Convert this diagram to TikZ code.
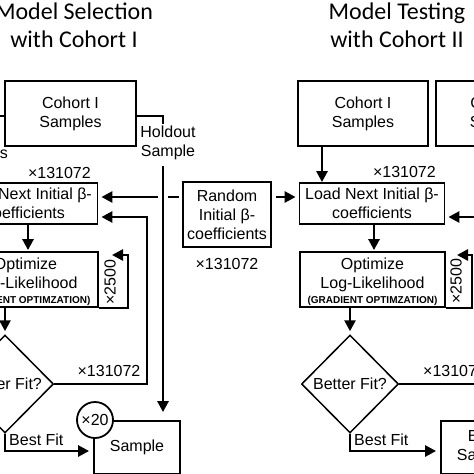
\documentclass[tikz,border=0pt]{standalone}
\usepackage{fontspec}
\setmainfont{Liberation Sans}
\newfontfamily\titlefont{Carlito}
\usetikzlibrary{arrows.meta,shapes.geometric}

\begin{document}
\begin{tikzpicture}[x=1pt,y=-1pt,
  every node/.style={font=\fontsize{16}{19}\selectfont,align=center,inner sep=0pt},
  ttl/.style={font=\titlefont\fontsize{24}{28}\selectfont},
  box/.style={draw,line width=1.8pt,minimum width=145pt,minimum height=41pt},
  dia/.style={draw,diamond,aspect=1,line width=1.5pt,minimum width=97pt,minimum height=98pt},
  link/.style={line width=2.6pt},
  arrow/.style={link,-{Triangle[length=11pt,width=11pt]}}]
\useasboundingbox (0,0) rectangle (474,474);
\clip (0,0) rectangle (474,474);

\node[ttl] (selTitle) at (74,25) {Model Selection\\with Cohort I};
\node[ttl] (testTitle) at (397,25) {Model Testing\\with Cohort II};

\node[box,minimum width=131pt,minimum height=65pt] (cohortL) at (70.5,113.5) {Cohort I\\Samples};
\node[box,minimum width=130pt,minimum height=65pt] (cohortR) at (363,113.5) {Cohort I\\Samples};
\node[box,minimum width=130pt,minimum height=65pt] (cohortT) at (501,113.5) {Cohort II\\Samples};
\node[box] (loadL) at (25,203.5) {Load Next Initial β-\\coefficients};
\node[box] (loadR) at (372,203.5) {Load Next Initial β-\\coefficients};
\node[box,minimum width=88pt,minimum height=65pt] (randB) at (227,214.5) {Random\\Initial β-\\coefficients};
\node[box,minimum height=55pt] (optL) at (25.5,279.5) {};
\node[box,minimum height=55pt] (optR) at (372.5,279.5) {};
\node (optTextL) at (25.5,281.5) {Optimize\\Log-Likelihood\\[-4pt]{\bfseries\fontsize{10}{12}\selectfont (GRADIENT OPTIMZATION)}};
\node (optTextR) at (372.5,281.5) {Optimize\\Log-Likelihood\\[-4pt]{\bfseries\fontsize{10}{12}\selectfont (GRADIENT OPTIMZATION)}};
\node[dia] (fitL) at (5,384) {Better Fit?};
\node[dia] (fitR) at (350,384) {Better Fit?};
\node[box,minimum width=86pt,minimum height=53pt] (sampL) at (137,447.5) {Sample};
\node[box,minimum width=86pt,minimum height=53pt] (sampR) at (484,447.5) {Best\\Sample};
\node[draw,circle,line width=1.8pt,fill=white,minimum size=36pt] (reps) at (95,420) {×20};

\node (holdout) at (168,143) {Holdout\\Sample};
\node[anchor=base east] (train) at (8,158) {Samples};
\node[anchor=east] (repL) at (91,173) {×131072};
\node[anchor=east] (repR) at (436,172) {×131072};
\node (repRand) at (227,264) {×131072};
\node (repFitL) at (109,371) {×131072};
\node[anchor=west] (repFitR) at (423,371) {×131072};
\node[rotate=90] (itL) at (110,282) {×2500};
\node[rotate=90] (itR) at (456,281) {×2500};
\node[anchor=west] (bestL) at (9,440) {Best Fit};
\node[anchor=west] (bestR) at (354,440) {Best Fit};

\coordinate (rowA) at (0,197);
\coordinate (rowB) at (0,217);
\coordinate (bestRow) at (0,451);
\coordinate (trainEnd) at (-20,116);
\coordinate (hold) at (163,124);
\coordinate (backL) at (147,384);
\coordinate (backR) at (494,384);
\coordinate (loopL) at (128,255);
\coordinate (tipL) at (112,255);
\coordinate (loopR) at (472,255);
\coordinate (tipR) at (457,255);
\coordinate (colA) at (28,0);
\coordinate (colB) at (374,0);
\coordinate (colC) at (322,0);

\draw[link] (cohortL.west |- trainEnd) -- (trainEnd);
\draw[link] (cohortL.east |- trainEnd) -| (hold);
\draw[arrow,shorten <=3pt,shorten >=3pt] (randB.west |- rowA) -- (loadL.east |- rowA);
\draw[arrow,shorten <=4pt,shorten >=3pt] (randB.east |- rowA) -- (loadR.west |- rowA);
\draw[white,line width=10pt] (hold |- 0,193) -- (hold |- 0,201);
\draw[arrow,shorten <=6pt,shorten >=8pt] (holdout.south -| hold) -- (sampL.north -| hold);
\draw[arrow,shorten >=3pt] (fitL.east) -- (backL) |- (loadL.east |- rowB);
\draw[arrow,shorten >=3pt] (fitR.east) -- (backR) |- (loadR.east |- rowB);
\draw[arrow] (cohortR.south -| colC) -- (loadR.north -| colC);
\draw[arrow,shorten >=1pt] (loadL.south -| colA) -- (optL.north -| colA);
\draw[arrow,shorten >=1pt] (loadR.south -| colB) -- (optR.north -| colB);
\draw[arrow] (optL.south east) -| (loopL) -- (tipL);
\draw[arrow] (optR.south east) -| (loopR) -- (tipR);
\draw[arrow,shorten >=3pt] (optL.south -| fitL) -- (fitL.north);
\draw[arrow,shorten >=3pt] (optR.south -| fitR) -- (fitR.north);
\draw[arrow,shorten >=4pt] (fitL.south) |- (sampL.west |- bestRow);
\draw[arrow,shorten >=4pt] (fitR.south) |- (sampR.west |- bestRow);
\end{tikzpicture}
\end{document}
